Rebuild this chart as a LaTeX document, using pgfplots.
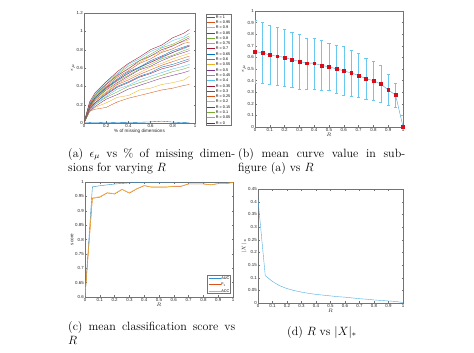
\documentclass[border=0pt]{standalone}
\usepackage{fontspec}
\usepackage{pgfplots}
\usepackage{pgfplotstable}
\pgfplotsset{compat=1.18}
\newfontfamily\mlfont{Liberation Sans}
\newcommand\tf{\fontsize{4.4}{5}\selectfont\mlfont}
\newcommand\lf{\fontsize{4.6}{5}\selectfont\mlfont}
\newcommand\cf{\fontsize{12}{14}\selectfont}
\definecolor{mblue}{rgb}{0,0.447,0.741}
\definecolor{morange}{rgb}{0.85,0.325,0.098}
\definecolor{myellow}{rgb}{0.929,0.694,0.125}
\definecolor{mpurple}{rgb}{0.494,0.184,0.556}
\definecolor{mgreen}{rgb}{0.466,0.674,0.188}
\definecolor{mcyan}{rgb}{0.301,0.745,0.933}
\definecolor{mred}{rgb}{0.635,0.078,0.184}
\definecolor{mkred}{rgb}{0.85,0.05,0.1}

\pgfplotstableread{
x    r100  r095 r090 r085 r080 r075 r070 r065 r060 r055 r050 r045 r040 r035 r030 r025 r020 r015 r010 r005 r000
0    0     0    0    0    0    0    0    0    0    0    0    0    0    0    0    0    0    0    0    0    0
0.05 0.004 0.13 0.12 0.13 0.13 0.14 0.15 0.16 0.16 0.17 0.17 0.18 0.19 0.18 0.20 0.19 0.21 0.20 0.22 0.21 0.23
0.1  0.002 0.15 0.17 0.18 0.20 0.21 0.22 0.22 0.24 0.25 0.26 0.26 0.27 0.28 0.27 0.29 0.29 0.31 0.30 0.31 0.33
0.2  0.006 0.17 0.22 0.26 0.28 0.29 0.31 0.32 0.33 0.34 0.36 0.37 0.39 0.38 0.39 0.40 0.42 0.42 0.43 0.45 0.45
0.3  0.003 0.23 0.28 0.31 0.34 0.37 0.39 0.40 0.42 0.43 0.44 0.46 0.46 0.47 0.48 0.50 0.51 0.52 0.53 0.54 0.56
0.4  0.005 0.27 0.30 0.37 0.40 0.41 0.44 0.45 0.47 0.49 0.51 0.52 0.55 0.54 0.56 0.57 0.60 0.59 0.62 0.64 0.65
0.5  0.008 0.30 0.36 0.41 0.44 0.47 0.50 0.51 0.53 0.55 0.58 0.59 0.60 0.61 0.61 0.65 0.66 0.68 0.68 0.70 0.72
0.6  0.012 0.33 0.38 0.45 0.48 0.51 0.54 0.55 0.58 0.61 0.62 0.64 0.67 0.66 0.68 0.70 0.73 0.73 0.75 0.78 0.80
0.7  0.020 0.36 0.42 0.49 0.52 0.55 0.59 0.61 0.63 0.65 0.68 0.70 0.71 0.72 0.73 0.77 0.78 0.80 0.82 0.83 0.85
0.8  0.010 0.38 0.44 0.52 0.56 0.59 0.62 0.64 0.67 0.70 0.73 0.74 0.77 0.77 0.79 0.81 0.85 0.84 0.86 0.90 0.93
0.9  0.004 0.41 0.47 0.55 0.59 0.62 0.66 0.68 0.71 0.74 0.77 0.79 0.81 0.82 0.83 0.87 0.89 0.90 0.92 0.94 0.98
0.95 0.003 0.42 0.51 0.57 0.61 0.64 0.68 0.70 0.73 0.76 0.79 0.81 0.84 0.84 0.85 0.88 0.91 0.93 0.95 0.98 1.02
}\curvetab

\pgfplotstableread{
R    m     e
0    0.650 0.270
0.05 0.640 0.260
0.1  0.620 0.255
0.15 0.610 0.250
0.2  0.600 0.245
0.25 0.580 0.240
0.3  0.565 0.235
0.35 0.550 0.220
0.4  0.550 0.220
0.45 0.530 0.215
0.5  0.520 0.205
0.55 0.500 0.205
0.6  0.485 0.210
0.65 0.465 0.195
0.7  0.445 0.190
0.75 0.415 0.175
0.8  0.400 0.165
0.85 0.370 0.160
0.9  0.320 0.135
0.95 0.275 0.105
1    0.003 0.100
}\meantab

\pgfplotstableread{
R    auc   fone  acc
0    0.600 0.600 0.602
0.05 0.983 0.943 0.945
0.1  0.987 0.947 0.949
0.15 0.990 0.962 0.963
0.2  0.993 0.958 0.960
0.25 0.995 0.974 0.975
0.3  0.997 0.961 0.963
0.35 0.998 0.976 0.977
0.4  0.999 0.987 0.988
0.45 0.999 0.982 0.983
0.5  0.999 0.982 0.983
0.55 0.999 0.982 0.983
0.6  1.000 0.985 0.986
0.65 1.000 0.985 0.986
0.7  1.000 0.993 0.994
0.75 1.000 0.993 0.994
0.8  1.000 0.993 0.994
0.85 1.000 0.990 0.991
0.9  1.000 0.994 0.995
0.95 1.000 0.994 0.995
1    1.000 0.998 0.999
}\scoretab

\pgfplotsset{
  ml/.style={
    scale only axis, anchor=north west,
    axis line style={black!55, line width=0.4pt},
    tick align=inside, major tick length=1.5pt,
    tick style={black!55, line width=0.3pt},
    every tick label/.append style={font=\tf, text=black!85, inner sep=1pt},
    /pgf/number format/assume math mode=true,
    /pgf/number format/fixed, /pgf/number format/precision=2,
    scaled ticks=false,
    label style={font=\lf, text=black!85},
    xlabel style={inner sep=0.5pt},
    ylabel style={inner sep=0.5pt},
    xmin=0, xmax=1,
  }
}

\begin{document}
\begin{tikzpicture}
\path[use as bounding box, fill=white] (0pt,0pt) rectangle (474pt,-353pt);

% (a)
\begin{axis}[ml, at={(84pt,-13pt)}, width=111pt, height=110pt,
  ymin=0, ymax=1.2,
  xtick={0,0.2,0.4,0.6,0.8,1}, ytick={0,0.2,0.4,0.6,0.8,1,1.2},
  xlabel={\% of missing dimensions}, ylabel={$\epsilon_\mu$},
  cycle list={{mblue},{morange},{myellow},{mpurple},{mgreen},{mcyan},{mred}},
  every axis plot/.append style={line width=0.35pt, mark=none},
  legend style={at={(1.1,0.99)}, anchor=north west, font=\fontsize{3.8}{4}\selectfont\mlfont,
    draw=black!55, line width=0.3pt, inner sep=0.8pt, row sep=1.8pt,
    nodes={inner sep=0.4pt, text height=2.7pt, text depth=0pt}},
  legend cell align=left,
  legend image code/.code={\draw[#1] (0pt,0pt) -- (8pt,0pt);},
]
\foreach \c in {r100,r095,r090,r085,r080,r075,r070,r065,r060,r055,r050,r045,r040,r035,r030,r025,r020,r015,r010,r005,r000}{
  \addplot table[x=x,y=\c] {\curvetab};
}
\legend{R = 1,R = 0.95,R = 0.9,R = 0.85,R = 0.8,R = 0.75,R = 0.7,R = 0.65,R = 0.6,R = 0.55,R = 0.5,R = 0.45,R = 0.4,R = 0.35,R = 0.3,R = 0.25,R = 0.2,R = 0.15,R = 0.1,R = 0.05,R = 0}
\end{axis}

% (b)
\begin{axis}[ml, at={(255pt,-11pt)}, width=148pt, height=116pt,
  ymin=0, ymax=1,
  xtick={0,0.1,0.2,0.3,0.4,0.5,0.6,0.7,0.8,0.9,1}, ytick={0,0.1,0.2,0.3,0.4,0.5,0.6,0.7,0.8,0.9,1},
  xlabel={$R$}, ylabel={$\epsilon_\mu$},
]
\addplot[mcyan!40!mblue!80!white, line width=0.4pt, mark=square*, mark size=1.4pt,
  mark options={draw=mkred, fill=mkred},
  error bars/.cd, y dir=both, y explicit,
  error bar style={mcyan!85!white, line width=0.35pt},
  error mark options={rotate=90, mark size=1.6pt, mcyan!85!white, line width=0.35pt}]
  table[x=R, y=m, y error=e] {\meantab};
\end{axis}

% (c)
\begin{axis}[ml, at={(85pt,-182pt)}, width=148pt, height=115pt,
  ymin=0.6, ymax=1,
  xtick={0,0.1,0.2,0.3,0.4,0.5,0.6,0.7,0.8,0.9,1}, ytick={0.6,0.65,0.7,0.75,0.8,0.85,0.9,0.95,1},
  xlabel={$R$}, ylabel={score},
  every axis plot/.append style={line width=0.4pt, mark=none},
  legend style={at={(0.985,0.03)}, anchor=south east, font=\fontsize{3.8}{4}\selectfont\mlfont,
    draw=black!55, line width=0.3pt, inner sep=0.8pt, row sep=2.6pt,
    nodes={inner sep=0.5pt, text height=2.7pt, text depth=0pt}},
  legend cell align=left,
  legend image code/.code={\draw[#1] (0pt,0pt) -- (12pt,0pt);},
]
\addplot[mblue!80!white] table[x=R,y=auc] {\scoretab};
\addplot[morange] table[x=R,y=fone] {\scoretab};
\addplot[myellow] table[x=R,y=acc] {\scoretab};
\legend{AUC,F\textsubscript{1},ACC}
\end{axis}

% (d)
\begin{axis}[ml, at={(258pt,-189pt)}, width=145pt, height=114pt,
  ymin=0, ymax=0.45,
  xtick={0,0.1,0.2,0.3,0.4,0.5,0.6,0.7,0.8,0.9,1}, ytick={0,0.05,0.1,0.15,0.2,0.25,0.3,0.35,0.4,0.45},
  xlabel={$R$}, ylabel={$|X|_*$},
]
\addplot[mcyan!60!mblue!85!white, line width=0.4pt, mark=none] coordinates {
(0,0.408) (0.05,0.108) (0.1,0.085) (0.15,0.068) (0.2,0.057) (0.25,0.049)
(0.3,0.043) (0.35,0.038) (0.4,0.034) (0.45,0.031) (0.5,0.028) (0.55,0.025)
(0.6,0.023) (0.65,0.020) (0.7,0.017) (0.75,0.015) (0.8,0.012) (0.85,0.010)
(0.9,0.008) (0.95,0.006) (1,0.002)};
\end{axis}

% captions
\node[anchor=base west, inner sep=0] at (68pt,-157pt) {\cf\makebox[167pt][s]{(a) $\epsilon_\mu$ vs \% of missing dimen-}};
\node[anchor=base west, inner sep=0] at (68pt,-171pt) {\cf sions for varying $R$};
\node[anchor=base west, inner sep=0] at (238pt,-157pt) {\cf\makebox[167pt][s]{(b) mean curve value in sub-}};
\node[anchor=base west, inner sep=0] at (238pt,-171pt) {\cf figure (a) vs $R$};
\node[anchor=base west, inner sep=0] at (68pt,-330pt) {\cf\makebox[167pt][s]{(c) mean classification score vs}};
\node[anchor=base west, inner sep=0] at (68pt,-344pt) {\cf $R$};
\node[anchor=base west, inner sep=0] at (287pt,-335pt) {\cf (d) $R$ vs $|X|_*$};
\end{tikzpicture}
\end{document}
